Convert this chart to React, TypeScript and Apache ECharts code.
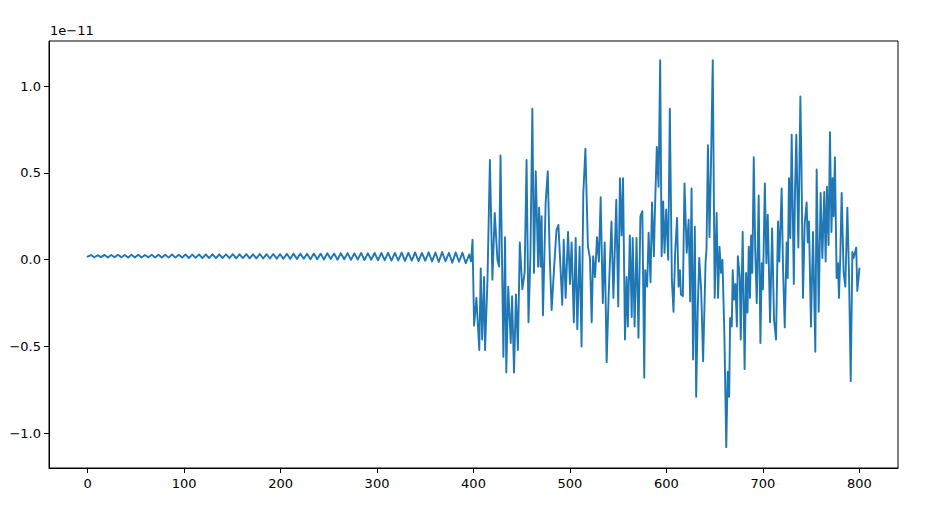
import React, { useEffect, useRef } from "react";
import * as echarts from "echarts";

// Quiet part: values (in units of 1e-11) sampled every QUIET_STEP along x
const QUIET_STEP = 3.5;
const quietY = [
  0.018, 0.027, 0.014, 0.026, 0.015, 0.028, 0.013, 0.027, 0.014, 0.028, 0.014, 0.027, 0.013, 0.028, 0.013,
  0.029, 0.013, 0.027, 0.014, 0.028, 0.012, 0.029, 0.013, 0.028, 0.012, 0.03, 0.012, 0.028, 0.013,
  0.03, 0.01, 0.029, 0.011, 0.031, 0.009, 0.03, 0.01, 0.031, 0.009, 0.03, 0.01, 0.031, 0.009, 0.032,
  0.008, 0.031, 0.009, 0.032, 0.008, 0.031, 0.008, 0.033, 0.007, 0.032, 0.007, 0.033, 0.006, 0.032,
  0.005, 0.034, 0.005, 0.035, 0.004, 0.035, 0.005, 0.034, 0.002, 0.036, 0.003, 0.035, 0.001, 0.037, 0.004,
  0.036, 0.0, 0.037, 0.003, 0.038, -0.001, 0.036, 0.001, 0.039, -0.002, 0.037, 0.0, 0.039, -0.003,
  0.039, -0.003, 0.04, -0.005, 0.039, -0.004, 0.041, -0.007, 0.04, -0.005, 0.042, -0.008, 0.039, -0.006,
  0.043, -0.01, 0.041, -0.013, 0.044, -0.009, 0.04, -0.017, 0.042, -0.012, 0.04, -0.02, 0.03,
];

// Loud part: [x, value in units of 1e-11]
const loudPoints: [number, number][] = [
  [397.5, -0.01], [399, 0.115], [400.6, -0.38], [403, -0.22], [406, -0.52], [407.5, -0.05], [409, -0.46], [411, -0.1],
  [412, -0.52], [414.5, -0.115], [417, 0.575], [419.6, -0.115], [422, 0.27], [424.8, 0.0], [426.5, -0.04],
  [428, 0.6], [431, -0.56], [432.7, 0.13], [434, -0.65], [436, -0.155], [438.6, -0.48], [440, -0.21],
  [442, -0.65], [444, -0.2], [446, -0.52], [448, 0.1], [450.6, -0.17], [453, -0.075], [455, 0.575],
  [457, -0.36], [459, 0.02], [461, 0.87], [462.7, -0.076], [464.5, 0.51], [467, -0.04], [468, 0.3],
  [469.6, -0.04], [470.6, 0.25], [472, -0.32], [474.8, 0.33], [477, 0.51], [479, 0.02], [481, -0.29],
  [483.4, -0.06], [486, 0.17], [488, 0.2], [489.6, 0.02], [492, -0.26], [493.5, 0.115], [495.5, -0.22],
  [498, 0.16], [500, -0.14], [501.7, 0.1], [504, -0.36], [505.9, 0.125], [507.6, -0.4], [510, 0.075],
  [512, -0.5], [513.8, 0.38], [516, 0.64], [518.6, 0.075], [520.7, 0.01], [522.5, -0.36], [524, 0.02],
  [526, -0.1], [528, 0.13], [530, -0.01], [531.8, 0.36], [534, -0.25], [536, 0.1], [538, -0.59],
  [540, -0.22], [543, 0.22], [545, -0.22], [548, 0.345], [550, -0.27], [551.8, 0.47], [553.5, 0.14],
  [555, 0.47], [557, -0.46], [558.7, -0.1], [560, -0.385], [562, 0.14], [564, -0.33], [565, 0.125],
  [567, -0.385], [569, 0.125], [571, -0.45], [573, 0.25], [575, 0.28], [577, -0.68], [578, -0.06],
  [580, -0.155], [581.5, 0.155], [583.5, -0.13], [585, 0.33], [587, 0.02], [588, 0.27], [590, 0.65],
  [591.8, 0.42], [593.5, 1.15], [595, 0.02], [596.6, 0.335], [598, 0.04], [599.7, 0.29], [601.8, 0.0],
  [603.5, 0.87], [605.6, -0.115], [607.3, -0.3], [609, 0.04], [611, 0.24], [612.5, -0.155], [614, -0.06],
  [615, -0.2], [617, -0.21], [618.7, 0.44], [621, 0.04], [623, 0.23], [624.6, -0.24], [626, 0.41],
  [627.6, -0.575], [629.4, 0.19], [630.8, -0.79], [632.5, -0.27], [634, 0.01], [636, -0.18], [638, -0.585],
  [640.5, -0.02], [641.5, 0.06], [643, 0.66], [644.6, 0.13], [646, 0.5], [648, 1.15], [650, -0.22],
  [652, 0.27], [653.5, -0.22], [655, 0.075], [656.6, -0.076], [658, 0.0], [660, -0.42], [662, -1.08],
  [663.5, -0.645], [665, -0.79], [666, -0.335], [667.7, -0.385], [668.7, -0.06], [670, -0.23],
  [671.5, -0.14], [673, -0.385], [674, 0.02], [676, -0.1], [677, -0.46], [679, 0.16], [681, -0.63],
  [682.5, -0.076], [684, -0.305], [685.3, 0.075], [686.6, -0.22], [687.7, 0.14], [689, -0.076],
  [690.5, 0.59], [692, 0.06], [693.6, -0.25], [695.6, 0.37], [697.4, -0.48], [698.8, -0.02], [700, -0.17],
  [702, 0.44], [703.6, -0.02], [705, 0.26], [707.4, -0.36], [709.5, 0.18], [711.5, -0.345], [713.6, -0.46],
  [715.6, 0.22], [717, -0.01], [719.4, 0.41], [720.8, -0.04], [722.6, -0.39], [724.6, 0.1], [725.7, -0.105],
  [727, 0.47], [728.4, 0.125], [729.8, 0.72], [732, -0.14], [733.2, 0.375], [734.6, 0.72], [736.7, 0.07],
  [738.8, 0.94], [739.8, 0.6], [741.5, -0.22], [743.3, 0.21], [745.3, 0.33], [746.4, 0.1], [747.7, 0.22],
  [749.8, -0.385], [751.9, 0.16], [754.3, -0.53], [755.7, 0.52], [757.8, -0.3], [759.8, 0.385],
  [761.6, 0.01], [763.6, 0.39], [765, -0.01], [766.4, 0.42], [768, 0.085], [769.5, 0.735], [771, 0.16],
  [772.3, 0.47], [773.3, 0.25], [774.6, 0.59], [776.4, -0.105], [777.8, -0.02], [778.8, -0.22],
  [780.2, 0.02], [781.6, 0.385], [783.6, -0.07], [785.4, -0.155], [787.5, 0.3], [789.2, -0.076],
  [791, -0.7], [792.7, 0.045], [794, 0.01], [795.3, 0.04], [796.7, 0.07], [797.8, -0.18], [799.2, -0.1],
  [800, -0.05],
];

const xTicks = [0, 100, 200, 300, 400, 500, 600, 700, 800];
const yTicks = [-1.0, -0.5, 0.0, 0.5, 1.0];
const offsetLabel = "1e\u221211";

const fmtY = (v: number) => (v < 0 ? "\u2212" + Math.abs(v).toFixed(1) : v.toFixed(1));

export default function App() {
  const ref = useRef<HTMLDivElement>(null);
  useEffect(() => {
    if (!ref.current) return;
    const chart = echarts.init(ref.current, undefined, { renderer: "svg" });
    const data: [number, number][] = [
      ...quietY.map((v, i) => [i * QUIET_STEP, v] as [number, number]),
      ...loudPoints,
    ];
    const font = "DejaVu Sans";
    const axisLine = { show: true, onZero: false, lineStyle: { color: "#000", width: 1 } };
    const tick = (vals: number[]) => ({
      show: true,
      inside: false,
      length: 5,
      customValues: vals,
      lineStyle: { color: "#000", width: 1 },
    });
    chart.setOption({
      animation: false,
      backgroundColor: "#ffffff",
      grid: {
        left: 49,
        top: 41,
        width: 849,
        height: 427,
        show: true,
        borderColor: "#000",
        borderWidth: 1,
        backgroundColor: "transparent",
        containLabel: false,
      },
      xAxis: {
        type: "value",
        min: -40,
        max: 840,
        axisLine,
        splitLine: { show: false },
        axisTick: tick(xTicks),
        axisLabel: {
          customValues: xTicks,
          margin: 9,
          color: "#000",
          fontFamily: font,
          fontSize: 13,
          formatter: (v: number) => String(v),
        },
      },
      yAxis: {
        type: "value",
        min: -1.2,
        max: 1.26,
        axisLine,
        splitLine: { show: false },
        axisTick: tick(yTicks),
        axisLabel: {
          customValues: yTicks,
          margin: 8,
          color: "#000",
          fontFamily: font,
          fontSize: 13,
          formatter: fmtY,
        },
      },
      graphic: [
        {
          type: "text",
          left: 50,
          top: 24,
          style: { text: offsetLabel, fill: "#000", font: `13px "${font}"` },
        },
      ],
      series: [
        {
          type: "line",
          data,
          showSymbol: false,
          symbol: "none",
          lineStyle: { color: "#1f77b4", width: 1.9, join: "round", cap: "round" },
          emphasis: { disabled: true },
        },
      ],
    });
    return () => chart.dispose();
  }, []);
  return (
    <div
      ref={ref}
      style={{ position: "fixed", left: 0, top: 0, width: 937, height: 512, background: "#fff" }}
    />
  );
}
